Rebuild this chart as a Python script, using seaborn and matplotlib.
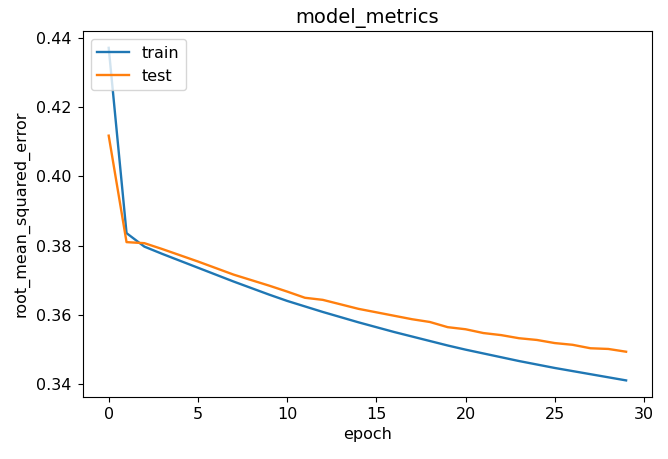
import pandas as pd
import matplotlib
matplotlib.use("Agg")
import matplotlib.pyplot as plt
import seaborn as sns

# values
epochs = list(range(30))
train_rmse = [0.4372, 0.3836, 0.3797, 0.3776, 0.3756, 0.3736, 0.3716, 0.3696, 0.3677, 0.3658,
              0.3640, 0.3624, 0.3608, 0.3593, 0.3578, 0.3564, 0.3550, 0.3537, 0.3524, 0.3511,
              0.3499, 0.3488, 0.3477, 0.3466, 0.3456, 0.3446, 0.3437, 0.3428, 0.3419, 0.3410]
test_rmse = [0.4118, 0.3810, 0.3807, 0.3790, 0.3772, 0.3754, 0.3735, 0.3716, 0.3700, 0.3684,
             0.3667, 0.3649, 0.3643, 0.3630, 0.3617, 0.3607, 0.3597, 0.3587, 0.3579, 0.3564,
             0.3558, 0.3547, 0.3541, 0.3532, 0.3527, 0.3518, 0.3513, 0.3503, 0.3501, 0.3493]

df = pd.DataFrame({'epoch': epochs, 'train': train_rmse, 'test': test_rmse})

plt.rcParams['font.size'] = 11.5
plt.rcParams['lines.linewidth'] = 1.7
plt.rcParams['ytick.major.pad'] = 5

fig, ax = plt.subplots(figsize=(6.68, 4.59), dpi=100)
fig.subplots_adjust(left=0.124, right=0.976, top=0.932, bottom=0.135)

colors = sns.color_palette('tab10')
sns.lineplot(data=df, x='epoch', y='train', ax=ax, color=colors[0], label='train')
sns.lineplot(data=df, x='epoch', y='test', ax=ax, color=colors[1], label='test')

ax.set_title('model_metrics', fontsize=14)
ax.set_xlabel('epoch')
ax.set_ylabel('root_mean_squared_error')
ax.legend(loc='upper left')

fig.savefig('out.png')
